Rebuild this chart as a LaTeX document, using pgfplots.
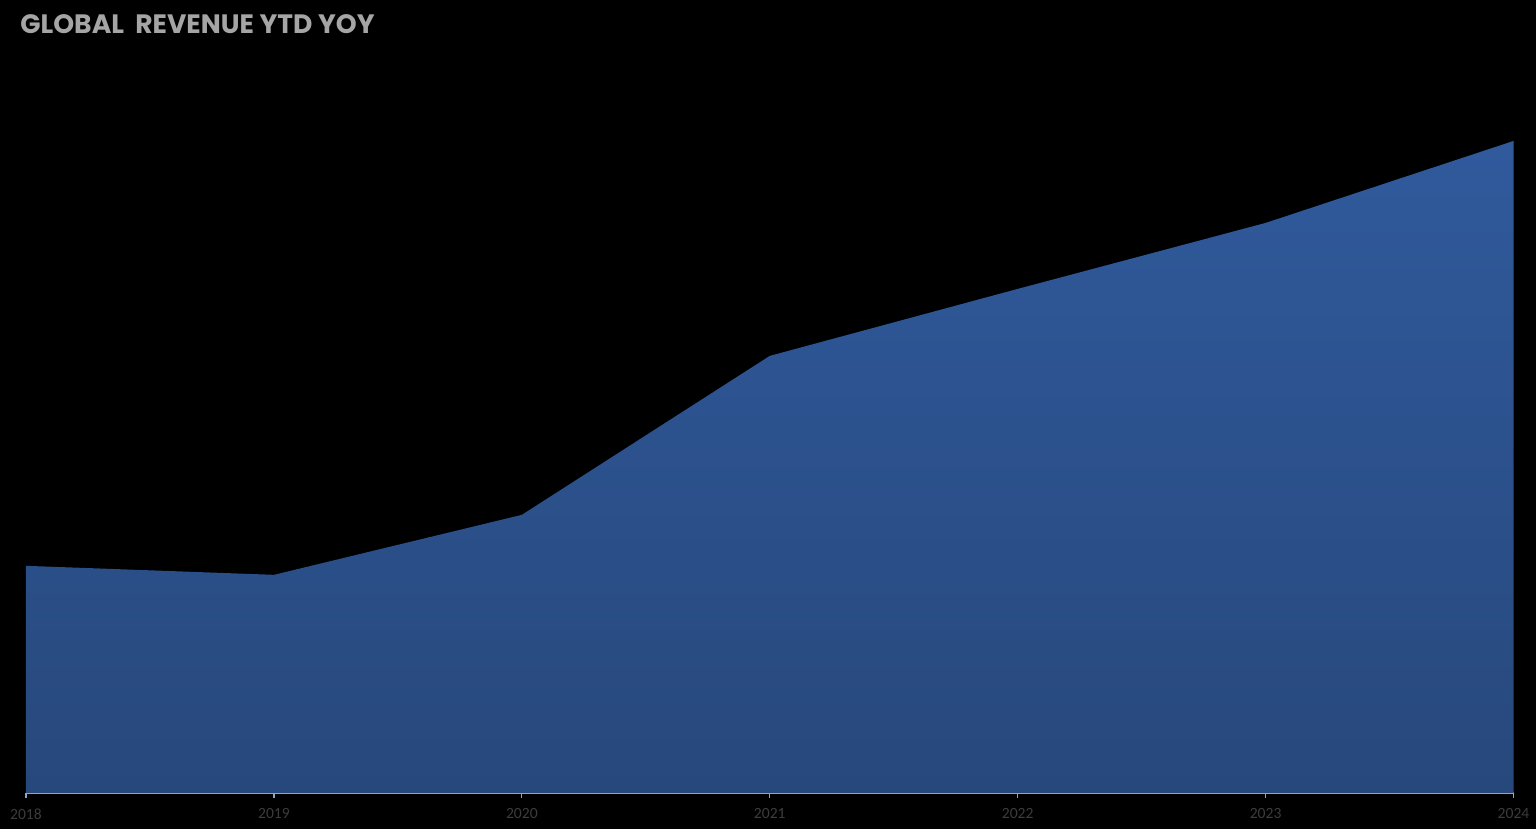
\documentclass[border=0pt]{standalone}
\usepackage{pgfplots}
\pgfplotsset{compat=1.18}
\usepackage{fontspec}
\setmainfont{Carlito}
\newfontfamily\titlefont{Poppins}

\definecolor{bgblack}{RGB}{0,0,0}
\definecolor{areatop}{RGB}{48,90,156}
\definecolor{areabot}{RGB}{39,72,124}
\definecolor{axisline}{RGB}{140,165,205}
\definecolor{ticktext}{RGB}{60,60,60}
\definecolor{titlegray}{RGB}{165,165,165}

\begin{document}
\begin{tikzpicture}
  % background, also fixes the page size (1px = 0.5pt)
  \fill[bgblack] (0,0) rectangle (768pt,414.5pt);
  \node[anchor=west, text=titlegray, inner sep=0pt]
    at (10pt,402.5pt) {\titlefont\bfseries\fontsize{13.3}{14}\selectfont GLOBAL\ \ REVENUE YTD YOY};
  \begin{axis}[
    at={(13pt,18pt)}, anchor=south west,
    scale only axis,
    width=744pt, height=350pt,
    xmin=0, xmax=6, ymin=0, ymax=700,
    axis y line=none,
    axis x line*=bottom,
    x axis line style={color=axisline, line width=0.9pt, -},
    xtick={0,...,6},
    xticklabels={2018,2019,2020,2021,2022,2023,2024},
    xtick style={color=axisline, line width=0.6pt},
    tick align=outside,
    major tick length=2.5pt,
    x tick label style={text=ticktext, font=\fontsize{7.8}{9}\selectfont, yshift=-2pt},
    clip=false,
  ]
    \addplot[draw=none, top color=areatop, bottom color=areabot]
      coordinates {(0,227)(1,218)(2,278)(3,437)(4,504)(5,570)(6,652)} \closedcycle;
  \end{axis}
\end{tikzpicture}
\end{document}
